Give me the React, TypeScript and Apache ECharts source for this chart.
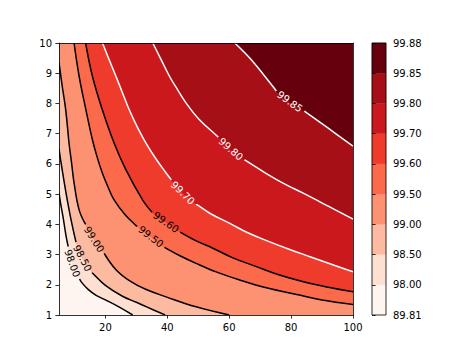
import React, { useEffect, useRef } from 'react';
import * as echarts from 'echarts';

// ---- data ----
const levels = [89.81, 98.0, 98.5, 99.0, 99.5, 99.6, 99.7, 99.8, 99.85, 99.88];
const bandColors = ['#fff5f0', '#fee0d2', '#fcbba1', '#fc9272', '#fb6a4a', '#ef3b2c', '#cb181d', '#a50f15', '#67000d'];
const xTicks = [20, 40, 60, 80, 100];
const xRange = [5, 100];
const yRange = [1, 10];

const contour9800 = [[5, 5.05], [5.5, 4.7], [6.3, 4.25], [7.3, 3.6], [8.3, 3.1], [9.3, 2.71], [10.6, 2.38], [12.3, 2.08], [14.5, 1.84], [17, 1.65], [20, 1.5], [24.5, 1.26], [28.8, 1.0]];
const contour9850 = [[5, 6.5], [5.8, 5.95], [6.6, 5.45], [7.5, 4.9], [8.8, 4.2], [10.4, 3.45], [12.6, 2.88], [15.8, 2.39], [20, 1.98], [25.5, 1.62], [30, 1.42], [33.5, 1.26], [39.3, 1.0]];
const contour9900 = [[5, 9.35], [6, 8.6], [7.17, 7.79], [8.24, 6.69], [9.1, 6.0], [9.87, 5.37], [11.5, 4.48], [13.8, 3.95], [16.35, 3.5], [19.5, 3.05], [23.4, 2.5], [28, 2.12], [33, 1.85], [39.6, 1.6], [49.3, 1.27], [60, 1.0]];
const contour9950 = [[9.87, 10], [11.5, 8.9], [13.7, 7.79], [15.8, 6.8], [17.4, 6.2], [19, 5.7], [20.9, 5.22], [22.8, 4.81], [26.5, 4.3], [30, 3.95], [34.7, 3.59], [38.5, 3.27], [43.9, 2.97], [49.3, 2.71], [56, 2.42], [63.4, 2.16], [72, 1.9], [81.8, 1.68], [90, 1.5], [100, 1.35]];
const contour9960 = [[13.6, 10], [15.8, 8.9], [19, 7.79], [22.8, 6.69], [26.6, 5.81], [32, 4.81], [35.3, 4.37], [39.6, 4.07], [43.9, 3.76], [49, 3.47], [54.7, 3.21], [61, 2.9], [68.8, 2.6], [76, 2.33], [84, 2.1], [92, 1.92], [100, 1.77]];
const contour9970 = [[19.05, 10], [21.2, 9.45], [23.4, 8.9], [25.6, 8.33], [27.7, 7.79], [30.4, 7.2], [33.1, 6.69], [36.3, 6.17], [39.6, 5.7], [42.2, 5.35], [45, 5.04], [49.3, 4.67], [54, 4.35], [60.2, 4.03], [66, 3.72], [73.1, 3.42], [80, 3.15], [86.1, 2.93], [93, 2.68], [100, 2.43]];
const contour9980 = [[35.3, 10], [38, 9.45], [40.7, 8.9], [43.4, 8.44], [46.1, 8.01], [50.4, 7.46], [55.8, 6.95], [60.5, 6.49], [65, 6.13], [72, 5.68], [78, 5.33], [83.9, 5.03], [92, 4.6], [100, 4.17]];
const contour9985 = [[61.8, 10], [67.2, 9.44], [71.5, 8.9], [75.8, 8.34], [79.6, 8.06], [84.5, 7.73], [92, 7.18], [100, 6.59]];

const contourLines = [contour9800, contour9850, contour9900, contour9950, contour9960, contour9970, contour9980, contour9985];
const labelAnchors = [[9.3, 2.71], [12.6, 2.88], [16.35, 3.5], [34.7, 3.59], [39.6, 4.07], [45, 5.04], [60.5, 6.49], [79.6, 8.06]];
const lineColors = ['#000000', '#000000', '#000000', '#000000', '#000000', '#ffffff', '#ffffff', '#ffffff'];

const FONT = 'DejaVu Sans';
const FS = 10;
const SMOOTH = 0.4;

function textWidth(s: string) {
  let w = 0;
  for (const ch of s) w += ch === '.' ? 0.318 : 0.636;
  return w * FS;
}

function splitAround(pts: number[][], anchor: number[], half: number) {
  const cum = [0];
  for (let k = 1; k < pts.length; k++) {
    cum.push(cum[k - 1] + Math.hypot(pts[k][0] - pts[k - 1][0], pts[k][1] - pts[k - 1][1]));
  }
  const total = cum[cum.length - 1];
  let best = Infinity;
  let bs = 0;
  for (let k = 1; k < pts.length; k++) {
    const a = pts[k - 1];
    const b = pts[k];
    const dx = b[0] - a[0];
    const dy = b[1] - a[1];
    const L2 = dx * dx + dy * dy || 1;
    let t = ((anchor[0] - a[0]) * dx + (anchor[1] - a[1]) * dy) / L2;
    t = Math.max(0, Math.min(1, t));
    const px = a[0] + t * dx;
    const py = a[1] + t * dy;
    const d = Math.hypot(px - anchor[0], py - anchor[1]);
    if (d < best) {
      best = d;
      bs = cum[k - 1] + t * Math.sqrt(L2);
    }
  }
  const pointAt = (s: number) => {
    s = Math.max(0, Math.min(total, s));
    for (let k = 1; k < pts.length; k++) {
      if (cum[k] >= s) {
        const seg = cum[k] - cum[k - 1] || 1;
        const t = (s - cum[k - 1]) / seg;
        return [pts[k - 1][0] + t * (pts[k][0] - pts[k - 1][0]), pts[k - 1][1] + t * (pts[k][1] - pts[k - 1][1])];
      }
    }
    return pts[pts.length - 1];
  };
  const s0 = bs - half;
  const s1 = bs + half;
  const before: number[][] = [];
  const after: number[][] = [];
  for (let k = 0; k < pts.length; k++) {
    if (cum[k] < s0) before.push(pts[k]);
  }
  before.push(pointAt(s0));
  after.push(pointAt(s1));
  for (let k = 0; k < pts.length; k++) {
    if (cum[k] > s1) after.push(pts[k]);
  }
  const p0 = pointAt(s0);
  const p1 = pointAt(s1);
  let dx = p1[0] - p0[0];
  let dy = p1[1] - p0[1];
  if (dx < 0) {
    dx = -dx;
    dy = -dy;
  }
  const center = pointAt(bs);
  return { before, after, center, angle: Math.atan2(dy, dx) };
}

export default function App() {
  const ref = useRef<HTMLDivElement>(null);
  useEffect(() => {
    if (!ref.current) return;
    const chart = echarts.init(ref.current, null, { renderer: 'svg' });

    const axisLabelStyle = { color: '#000', fontSize: FS, fontFamily: FONT };
    const lineStyle = { color: '#000', width: 0.8 };

    const option: any = {
      animation: false,
      backgroundColor: '#ffffff',
      grid: [
        { left: 59, top: 43, width: 294, height: 272 },
        { left: 372, top: 43, width: 14, height: 272 },
      ],
      xAxis: [
        {
          type: 'value', gridIndex: 0, min: xRange[0], max: xRange[1], position: 'bottom', z: 10,
          axisLine: { show: true, lineStyle },
          axisTick: { show: true, length: 3.6, lineStyle, customValues: xTicks },
          axisLabel: { ...axisLabelStyle, margin: 7, customValues: xTicks },
          splitLine: { show: false },
        },
        {
          type: 'value', gridIndex: 0, min: xRange[0], max: xRange[1], position: 'top', z: 10,
          axisLine: { show: true, lineStyle }, axisTick: { show: false }, axisLabel: { show: false }, splitLine: { show: false },
        },
        {
          type: 'value', gridIndex: 1, min: 0, max: 1, show: false,
        },
      ],
      yAxis: [
        {
          type: 'value', gridIndex: 0, min: yRange[0], max: yRange[1], interval: 1, position: 'left', z: 10,
          axisLine: { show: true, lineStyle },
          axisTick: { show: true, length: 3.6, lineStyle },
          axisLabel: { ...axisLabelStyle, margin: 7 },
          splitLine: { show: false },
        },
        {
          type: 'value', gridIndex: 0, min: yRange[0], max: yRange[1], position: 'right', z: 10,
          axisLine: { show: true, lineStyle }, axisTick: { show: false }, axisLabel: { show: false }, splitLine: { show: false },
        },
        {
          type: 'value', gridIndex: 1, min: 0, max: levels.length - 1, interval: 1, position: 'right', z: 10,
          axisLine: { show: false },
          axisTick: { show: true, length: 3.6, lineStyle },
          axisLabel: { ...axisLabelStyle, margin: 7, formatter: (v: number) => levels[Math.round(v)].toFixed(2) },
          splitLine: { show: false },
        },
      ],
      series: [
        {
          type: 'custom',
          xAxisIndex: 0,
          yAxisIndex: 0,
          silent: true,
          z: 1,
          clip: true,
          data: bandColors.map((_, i) => [i]),
          encode: { x: -1, y: -1 },
          renderItem: (params: any, api: any) => {
            const i = params.dataIndex;
            if (i === 0) {
              const corners = [[xRange[0], yRange[0]], [xRange[1], yRange[0]], [xRange[1], yRange[1]], [xRange[0], yRange[1]]];
              return {
                type: 'polygon',
                shape: { points: corners.map((p) => api.coord(p)) },
                style: { fill: bandColors[0] },
              };
            }
            const pts = contourLines[i - 1];
            const first = pts[0];
            const last = pts[pts.length - 1];
            const closing: number[][] = [];
            if (last[1] <= yRange[0]) closing.push([xRange[1], yRange[0]]);
            closing.push([xRange[1], yRange[1]]);
            if (first[0] <= xRange[0]) closing.push([xRange[0], yRange[1]]);
            return {
              type: 'group',
              children: [
                {
                  type: 'polyline',
                  shape: { points: pts.map((p) => api.coord(p)), smooth: SMOOTH },
                  style: { fill: bandColors[i], stroke: bandColors[i], lineWidth: 0.5 },
                },
                {
                  type: 'polygon',
                  shape: { points: pts.map((p) => api.coord(p)).concat(closing.map((p) => api.coord(p))) },
                  style: { fill: bandColors[i], stroke: bandColors[i], lineWidth: 0.5 },
                },
              ],
            };
          },
        },
        {
          type: 'custom',
          xAxisIndex: 0,
          yAxisIndex: 0,
          silent: true,
          z: 3,
          clip: true,
          data: contourLines.map((_, i) => [i]),
          encode: { x: -1, y: -1 },
          renderItem: (params: any, api: any) => {
            const i = params.dataIndex;
            const px = contourLines[i].map((p) => api.coord(p));
            const anchor = api.coord(labelAnchors[i]);
            const text = levels[i + 1].toFixed(2);
            const half = textWidth(text) / 2 + 3;
            const sp = splitAround(px, anchor, half);
            const color = lineColors[i];
            return {
              type: 'group',
              children: [
                { type: 'polyline', shape: { points: sp.before, smooth: SMOOTH }, style: { stroke: color, lineWidth: 1.5, fill: 'none' } },
                { type: 'polyline', shape: { points: sp.after, smooth: SMOOTH }, style: { stroke: color, lineWidth: 1.5, fill: 'none' } },
                {
                  type: 'text',
                  x: sp.center[0],
                  y: sp.center[1],
                  rotation: -sp.angle,
                  style: { text, fill: color, font: `${FS}px "${FONT}"`, align: 'center', verticalAlign: 'middle' },
                },
              ],
            };
          },
        },
        {
          type: 'custom',
          xAxisIndex: 2,
          yAxisIndex: 2,
          silent: true,
          z: 1,
          data: bandColors.map((_, i) => [i]).concat([[bandColors.length]]),
          encode: { x: -1, y: -1 },
          renderItem: (params: any, api: any) => {
            const i = params.dataIndex;
            if (i === bandColors.length) {
              const a = api.coord([0, levels.length - 1]);
              const b = api.coord([1, 0]);
              return {
                type: 'rect',
                shape: { x: a[0], y: a[1], width: b[0] - a[0], height: b[1] - a[1] },
                style: { fill: 'none', stroke: '#000', lineWidth: 0.8 },
                z2: 10,
              };
            }
            const a = api.coord([0, i + 1]);
            const b = api.coord([1, i]);
            return {
              type: 'rect',
              shape: { x: a[0], y: a[1], width: b[0] - a[0], height: b[1] - a[1] },
              style: { fill: bandColors[i], stroke: bandColors[i], lineWidth: 0.3 },
            };
          },
        },
      ],
    };
    chart.setOption(option);
    return () => chart.dispose();
  }, []);
  return <div ref={ref} style={{ position: 'fixed', left: 0, top: 0, width: 474, height: 354 }} />;
}
